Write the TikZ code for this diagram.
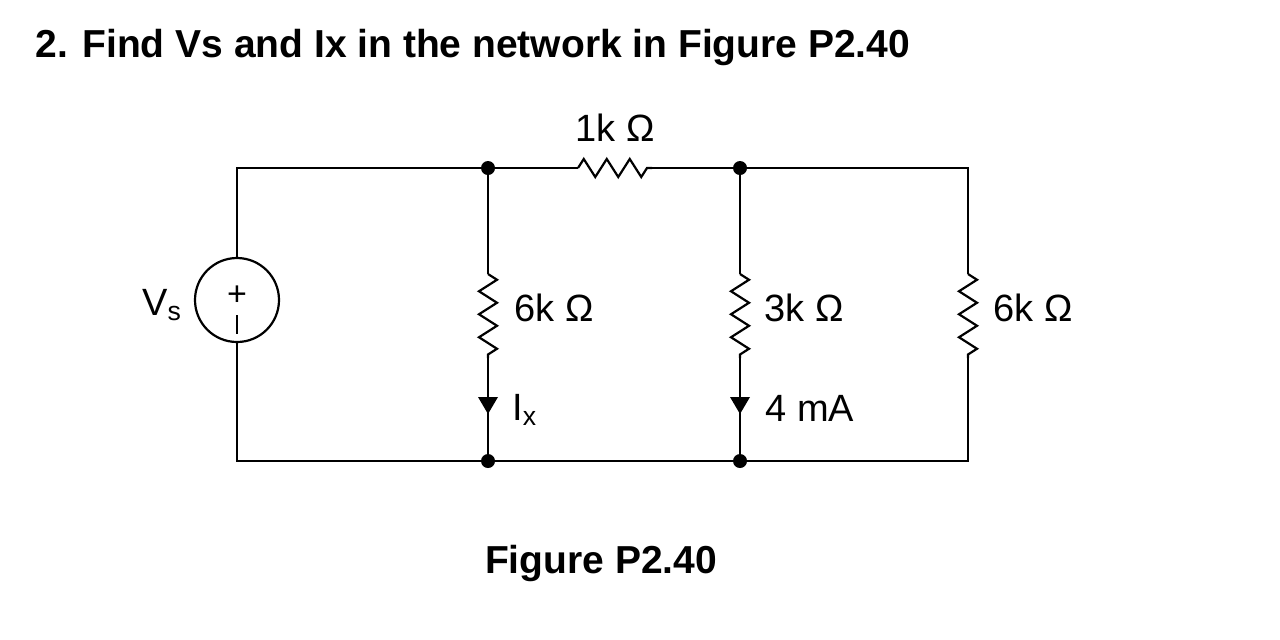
\documentclass[tikz,border=0pt]{standalone}
\usepackage{fontspec}
\setmainfont{Liberation Sans}
\usetikzlibrary{decorations.pathmorphing}
\begin{document}
\begin{tikzpicture}[x=0.5pt,y=-0.5pt,
  w/.style={line width=1.1pt},
  res/.style={w,decorate,decoration={zigzag,segment length=11.5pt,amplitude=4.5pt}},
  dot/.style={circle,fill,inner sep=0pt,minimum size=7pt},
  lab/.style={font=\fontsize{19}{21}\selectfont,inner sep=0pt}]
\useasboundingbox (0,0) rectangle (1280,639);
\node[anchor=base west,font=\bfseries\fontsize{19.5}{22}\selectfont,inner sep=0pt] (t) at (35,57) {2. Find Vs and Ix in the network in Figure P2.40};
\node[dot] (a) at (488,168) {};
\node[dot] (b) at (740,168) {};
\node[dot] (c) at (488,461) {};
\node[dot] (d) at (740,461) {};
\node[circle,draw,line width=1.1pt,minimum size=42pt,inner sep=0pt] (s) at (237,300) {};
\coordinate (tl) at (237,168); \coordinate (bl) at (237,461);
\coordinate (tr) at (968,168); \coordinate (br) at (968,461);
\draw[w] (s) -- (tl) -- (a);
\draw[w] (s) -- (bl) -- (c) -- (d) -- (br) -- (968,358);
\draw[w] (a) -- (578,168);
\draw[res] (578,168) -- (652,168);
\draw[w] (652,168) -- (b) -- (tr) -- (968,274);
\draw[res] (968,274) -- (968,358);
\foreach \x in {488,740}{
  \draw[w] (\x,168) -- (\x,274);
  \draw[res] (\x,274) -- (\x,358);
  \draw[w] (\x,358) -- (\x,461);
  \fill (\x-10,397) -- (\x+10,397) -- (\x,414) -- cycle;
}
\node[font=\fontsize{17}{18}\selectfont] (plus) at (237,296) {+};
\draw[line width=1.4pt] (237,315) -- (237,334);
\node[lab] (vs) at (162,305) {V\textsubscript{s}};
\node[lab] (r1) at (615,128) {1k Ω};
\node[lab,anchor=west] (r2) at (514,308) {6k Ω};
\node[lab,anchor=west] (r3) at (764,308) {3k Ω};
\node[lab,anchor=west] (r4) at (993,308) {6k Ω};
\node[lab,anchor=west] (ix) at (512,410) {I\textsubscript{x}};
\node[lab,anchor=west] (i4) at (765,408) {4 mA};
\node[font=\bfseries\fontsize{19.5}{22}\selectfont,inner sep=0pt] (f) at (601,563) {Figure P2.40};
\end{tikzpicture}
\end{document}
